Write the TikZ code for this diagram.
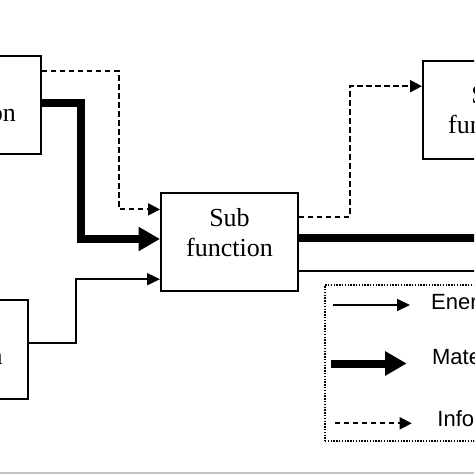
\documentclass[tikz,border=0pt]{standalone}
\usepackage{fontspec}
\setmainfont{Liberation Serif}
\newfontfamily\legendfont{Liberation Sans}
\usepackage{tikz}
\usetikzlibrary{arrows.meta,positioning}
\definecolor{edgegray}{RGB}{196,196,196}

\begin{document}
\begin{tikzpicture}[x=0.5pt, y=-0.5pt,
  func/.style={draw, line width=1pt, minimum width=68.5pt,
    minimum height=49pt, inner sep=0pt},
  ftext/.style={align=center, inner sep=0pt,
    font=\fontsize{13}{15}\selectfont},
  legtext/.style={anchor=base west, inner sep=0pt,
    font=\legendfont\fontsize{11}{13}\selectfont},
  legendbox/.style={draw, line width=1pt, dash pattern=on 0.7pt off 0.7pt,
    minimum width=157.5pt, minimum height=77.8pt, inner sep=0pt},
  energy/.style={line width=0.95pt, -{Triangle[length=6.5pt,width=6pt]}},
  material/.style={line width=4pt, -{Triangle[length=10.75pt,width=11.5pt]}},
  info/.style={line width=0.95pt, dash pattern=on 2.7pt off 1.8pt,
    -{Triangle[length=6pt,width=6pt]}},
]
  \useasboundingbox (0,0) rectangle (474,474);
  \clip (0,0) rectangle (474,474);

  % function boxes
  \node[func] (lt) at (-27.5,105.2) {};
  \node[func] (lb) at (-40.8,349.5) {};
  \node[func] (sub) at (229.5,241.8) {};
  \node[func] (rt) at (491.5,110.2) {};
  \node[ftext] (lt-txt) at ([yshift=3.75pt]lt.center) {Sub\\function};
  \node[ftext] (lb-txt) at ([yshift=4.25pt]lb.center) {Sub\\function};
  \node[ftext] (sub-txt) at ([yshift=4.5pt]sub.center) {Sub\\function};
  \node[ftext] (rt-txt) at ([yshift=0.5pt]rt.center) {Sub\\function};

  % flows into the sub function
  \draw[info] ([yshift=17pt]lt.east) -| ([xshift=-20.5pt,yshift=16.2pt]sub.west)
    -- ([yshift=16.2pt]sub.west);
  \draw[material] ([yshift=1pt]lt.east) -| ([xshift=-39.3pt,yshift=1.4pt]sub.west)
    -- ([yshift=1.4pt]sub.west);
  \draw[energy] ([yshift=3.1pt]lb.east) -| ([xshift=-42pt,yshift=-18.7pt]sub.west)
    -- ([yshift=-18.7pt]sub.west);

  % flows out of the sub function
  \coordinate (mat-out) at (490,238.5);
  \coordinate (en-out) at (490,271.3);
  \draw[info] ([yshift=12.5pt]sub.east) -| ([xshift=-36pt,yshift=12pt]rt.west)
    -- ([yshift=12pt]rt.west);
  \draw[material, -] ([yshift=1.65pt]sub.east) -- (mat-out);
  \draw[energy, -] ([yshift=-14.75pt]sub.east) -- (en-out);

  % legend
  \node[legendbox] (legend) at (482.5,362.9) {};
  \node[legtext] (leg-en) at (430.7,309.3) {Energy};
  \node[legtext] (leg-mat) at (431.7,364) {Material};
  \node[legtext] (leg-info) at (437,426.7) {Information};
  \draw[energy] ([xshift=-48.85pt,yshift=2.15pt]leg-en.base west)
    -- ([xshift=-10.35pt,yshift=2.15pt]leg-en.base west);
  \draw[material] ([xshift=-50.5pt,yshift=0.25pt]leg-mat.base west)
    -- ([xshift=-12.5pt,yshift=0.25pt]leg-mat.base west);
  \draw[info] ([xshift=-51pt,yshift=1.7pt]leg-info.base west)
    -- ([xshift=-12.65pt,yshift=1.7pt]leg-info.base west);

  \fill[edgegray] (0,471.7) rectangle (474,474);
\end{tikzpicture}
\end{document}
